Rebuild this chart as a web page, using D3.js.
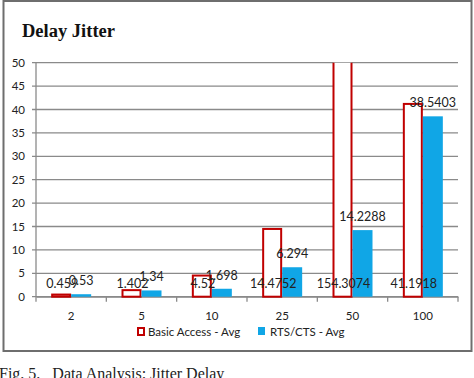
<!DOCTYPE html>
<html><head><meta charset="utf-8">
<script src="https://cdn.jsdelivr.net/npm/d3@7"></script>
<style>body{margin:0;background:#fff;}svg{display:block;}</style>
</head><body>
<svg id="c" width="474" height="378"></svg>
<script>
const categories = ["2","5","10","25","50","100"];
const basicAccess = [0.459, 1.402, 4.52, 14.4752, 154.3074, 41.1918];
const rtsCts = [0.53, 1.34, 1.698, 6.294, 14.2288, 38.5403];
const basicLabels = ["0.459","1.402","4.52","14.4752","154.3074","41.1918"];
const rtsLabels = ["0.53","1.34","1.698","6.294","14.2288","38.5403"];
const yTicks = [0,5,10,15,20,25,30,35,40,45,50];
const seriesNames = ["Basic Access - Avg","RTS/CTS - Avg"];

(function(){
const svg = d3.select("#c");
const pL = 36, pR = 458, pT = 62.7, pB = 296.7;
const red = "#C00000", blue = "#10A6E6", grid = "#8a8a8a";
const labelFont = "Lato, 'Open Sans', sans-serif";

// frame
svg.append("rect").attr("x",3.5).attr("y",1).attr("width",468).attr("height",350)
  .attr("fill","#fff").attr("stroke","#6e6e6e").attr("stroke-width",2);

// title
svg.append("text").attr("x",22).attr("y",37).text("Delay Jitter")
  .attr("font-family","'Liberation Serif','Times New Roman',serif").attr("font-weight","bold")
  .attr("font-size",18.5).attr("fill","#111");

const x = d3.scaleBand().domain(categories).range([pL,pR]).padding(0);
const y = d3.scaleLinear().domain([0,50]).range([pB,pT]);

// gridlines
svg.append("g").selectAll("line").data(yTicks).join("line")
  .attr("x1",pL-4).attr("x2",pR).attr("y1",d=>y(d)).attr("y2",d=>y(d))
  .attr("stroke",grid).attr("stroke-width",1.3);

// y axis
const yAxis = d3.axisLeft(y).tickValues(yTicks).tickSize(0).tickPadding(0);
const ga = svg.append("g").attr("transform",`translate(${pL},0)`).call(yAxis);
ga.select(".domain").remove();
ga.selectAll("text").attr("x",-11).attr("font-family",labelFont).attr("font-size",11.5).attr("fill","#222");
svg.append("line").attr("x1",pL).attr("x2",pL).attr("y1",pT).attr("y2",pB)
  .attr("stroke",grid).attr("stroke-width",1.3);

// x axis
const xAxis = d3.axisBottom(x).tickSize(0).tickPadding(0);
const gx = svg.append("g").attr("transform",`translate(0,${pB})`).call(xAxis);
gx.select(".domain").attr("stroke",grid).attr("stroke-width",1.3);
gx.selectAll("text").attr("y",15).attr("font-family",labelFont).attr("font-size",11.5).attr("fill","#222");
svg.append("g").selectAll("line").data(categories.concat(["end"])).join("line")
  .attr("x1",(d,i)=>pL + i*x.bandwidth()).attr("x2",(d,i)=>pL + i*x.bandwidth())
  .attr("y1",pB).attr("y2",pB+5).attr("stroke",grid).attr("stroke-width",1.3);

// clip
svg.append("clipPath").attr("id","plot").append("rect")
  .attr("x",pL).attr("y",pT).attr("width",pR-pL).attr("height",pB-pT+2);

const barW = 20;
const g = svg.append("g").attr("clip-path","url(#plot)");
g.selectAll("rect.ba").data(basicAccess).join("rect").attr("class","ba")
  .attr("x",(d,i)=>x(categories[i])+x.bandwidth()/2-barW+1)
  .attr("y",d=>y(Math.min(d,52)))
  .attr("width",barW-2).attr("height",d=>pB-y(Math.min(d,52)))
  .attr("fill","#fff").attr("stroke",red).attr("stroke-width",2);
g.selectAll("rect.rc").data(rtsCts).join("rect").attr("class","rc")
  .attr("x",(d,i)=>x(categories[i])+x.bandwidth()/2)
  .attr("y",d=>y(d)).attr("width",barW).attr("height",d=>pB-y(d))
  .attr("fill",blue);

// labels
svg.append("g").selectAll("text").data(basicLabels).join("text")
  .attr("x",(d,i)=>x(categories[i])+x.bandwidth()/2-barW/2+1)
  .attr("y",288).attr("text-anchor","middle").text(d=>d)
  .attr("font-family",labelFont).attr("font-size",12.5).attr("fill","#222");
svg.append("g").selectAll("text").data(rtsLabels).join("text")
  .attr("x",(d,i)=>x(categories[i])+x.bandwidth()/2+barW/2)
  .attr("y",(d,i)=>y(rtsCts[i])-9).attr("text-anchor","middle").text(d=>d)
  .attr("font-family",labelFont).attr("font-size",12.5).attr("fill","#222");

// legend
const lg = svg.append("g");
lg.append("rect").attr("x",138).attr("y",328).attr("width",6).attr("height",7)
  .attr("fill","#fff").attr("stroke",red).attr("stroke-width",2);
lg.append("text").attr("x",148).attr("y",336).text(seriesNames[0])
  .attr("font-family",labelFont).attr("font-size",11.5).attr("fill","#222");
lg.append("rect").attr("x",258).attr("y",327).attr("width",7).attr("height",8).attr("fill",blue);
lg.append("text").attr("x",270).attr("y",336).text(seriesNames[1])
  .attr("font-family",labelFont).attr("font-size",11.5).attr("fill","#222");

// caption
svg.append("text").attr("x",-1).attr("y",379).attr("xml:space","preserve")
  .text("Fig. 5.   Data Analysis: Jitter Delay")
  .attr("font-family","'Liberation Serif','Times New Roman',serif").attr("font-size",16).attr("fill","#222");
})();
</script>
</body></html>
